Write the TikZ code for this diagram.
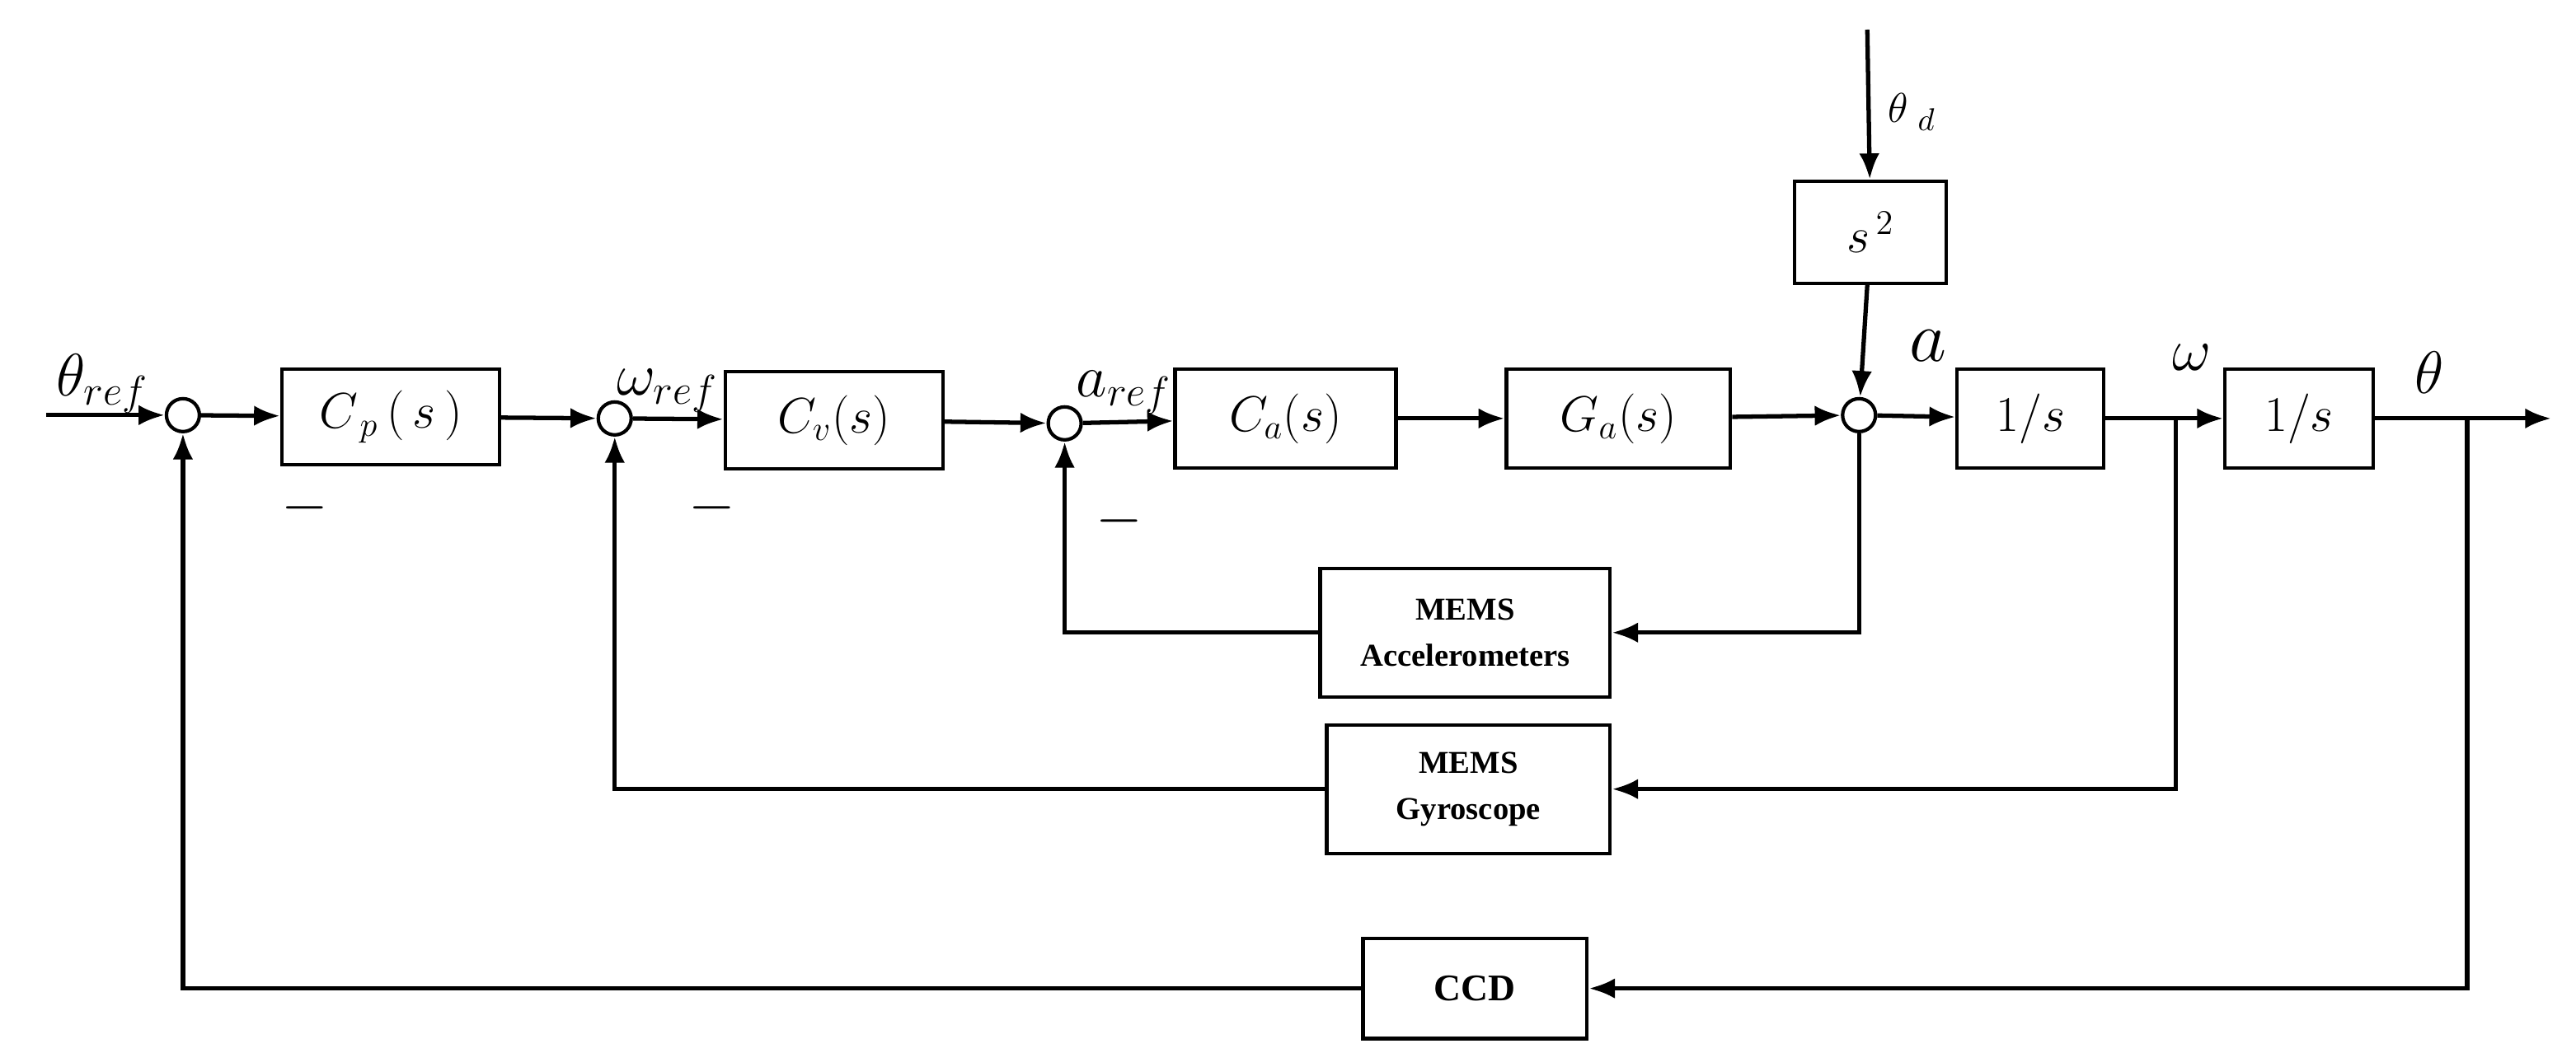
\documentclass[tikz,border=0pt]{standalone}
\usepackage{fontspec}
\setmainfont{Liberation Serif}
\usetikzlibrary{arrows.meta}
\begin{document}
\begin{tikzpicture}[x=0.02cm,y=-0.02cm,
 blk/.style={draw,line width=1.2pt,inner sep=0pt,font=\fontsize{17}{20}\selectfont},
 sm/.style={draw,circle,line width=1.2pt,minimum size=0.4cm,inner sep=0pt},
 sens/.style={draw,line width=1.2pt,inner sep=0pt,align=center,font=\bfseries\fontsize{11}{16}\selectfont},
 ln/.style={line width=1.5pt},
 ar/.style={line width=1.5pt,-{Latex[length=9pt,width=7pt]}},
 lab/.style={font=\fontsize{20}{24}\selectfont}]
\useasboundingbox (0,0) rectangle (1563,639);
\coordinate (in) at (28,252);
\node[sm] (s1) at (111,252) {};
\node[blk,minimum width=2.64cm,minimum height=1.16cm] (cp) at (237,253) {$C_{\,p}\,(\,s\,)$};
\node[sm] (s2) at (373,254) {};
\node[blk,minimum width=2.64cm,minimum height=1.18cm] (cv) at (506,255) {$C_{v}(s)$};
\node[sm] (s3) at (646,257) {};
\node[blk,minimum width=2.68cm,minimum height=1.2cm] (ca) at (780,254) {$C_{a}(s)$};
\node[blk,minimum width=2.72cm,minimum height=1.2cm] (ga) at (982,254) {$G_{a}(s)$};
\node[sm] (s4) at (1128,252) {};
\node[blk,minimum width=1.84cm,minimum height=1.24cm] (s2b) at (1135,141) {$s^{\,2}$};
\coordinate (td) at (1133,18);
\node[blk,minimum width=1.78cm,minimum height=1.2cm] (i1) at (1232,254) {$1/s$};
\coordinate (b1) at (1320,254);
\node[blk,minimum width=1.8cm,minimum height=1.2cm] (i2) at (1395,254) {$1/s$};
\coordinate (b2) at (1497,254);
\coordinate (out) at (1548,254);
\node[sens,minimum width=3.52cm,minimum height=1.56cm] (acc) at (889,384) {MEMS\\Accelerometers};
\node[sens,minimum width=3.44cm,minimum height=1.56cm] (gyr) at (891,479) {MEMS\\Gyroscope};
\node[sens,minimum width=2.72cm,minimum height=1.22cm,font=\bfseries\fontsize{13}{16}\selectfont] (ccd) at (895,600) {CCD};
% forward
\draw[ar] (in) -- (s1);
\draw[ar] (s1) -- (cp);
\draw[ar] (cp) -- (s2);
\draw[ar] (s2) -- (cv);
\draw[ar] (cv) -- (s3);
\draw[ar] (s3) -- (ca);
\draw[ar] (ca) -- (ga);
\draw[ar] (ga) -- (s4);
\draw[ar] (td) -- (s2b);
\draw[ar] (s2b) -- (s4);
\draw[ar] (s4) -- (i1);
\draw[ln] (i1) -- (b1);
\draw[ar] (b1) -- (i2);
\draw[ln] (i2) -- (b2);
\draw[ar] (b2) -- (out);
% feedback
\draw[ar] (s4) |- (acc);
\draw[ar] (acc) -| (s3);
\draw[ar] (b1) |- (gyr);
\draw[ar] (gyr) -| (s2);
\draw[ar] (b2) |- (ccd);
\draw[ar] (ccd) -| (s1);
% labels
\node[lab] (l1) at (62,233) {$\theta_{ref}$};
\node[lab] (l2) at (405,237) {$\omega_{ref}$};
\node[lab] (l3) at (682,238) {$a_{ref}$};
\node[font=\fontsize{30}{34}\selectfont] (l4) at (1170,210) {$a$};
\node[lab] (l5) at (1330,217) {$\omega$};
\node[lab] (l6) at (1474,226) {$\theta$};
\node[font=\fontsize{15}{18}\selectfont] (l7) at (1160,68) {$\theta_{\ d}$};
\node[lab] (m1) at (185,308) {$-$};
\node[lab] (m2) at (432,308) {$-$};
\node[lab] (m3) at (679,316) {$-$};
\end{tikzpicture}
\end{document}
